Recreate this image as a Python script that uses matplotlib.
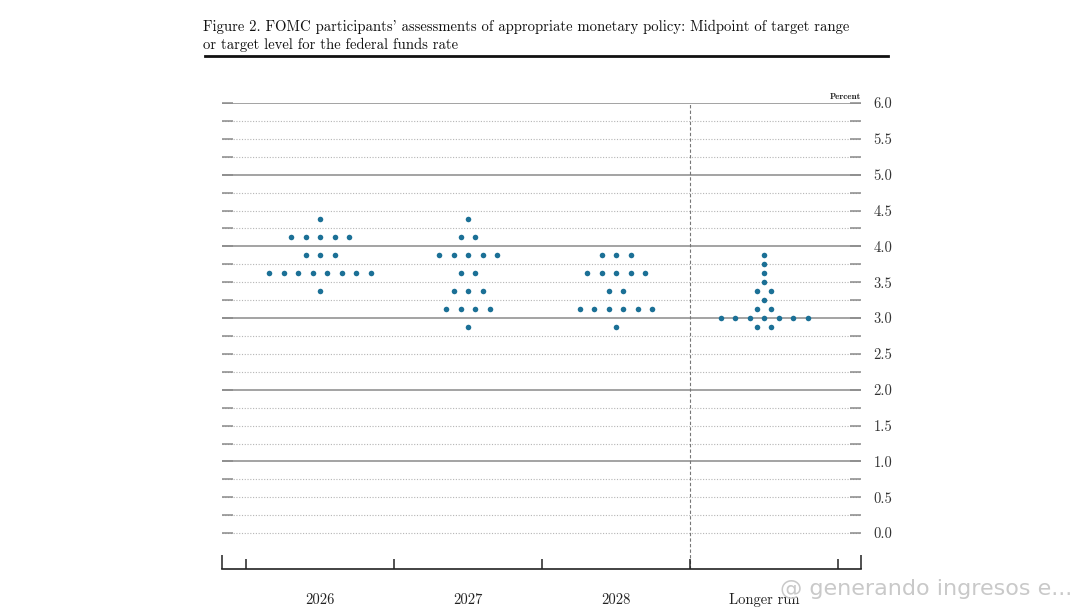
import numpy as np
import matplotlib
matplotlib.use('Agg')
import matplotlib.pyplot as plt
import matplotlib.transforms as mtransforms

plt.rcParams['axes.formatter.use_mathtext'] = True

# Midpoint levels and the number of participants at each level
rates = [4.375, 4.125, 3.875, 3.75, 3.625, 3.5, 3.375, 3.25, 3.125, 3.0, 2.875]
counts_2026 = [1, 5, 3, 0, 8, 0, 1, 0, 0, 0, 0]
counts_2027 = [1, 2, 5, 0, 2, 0, 3, 0, 4, 0, 1]
counts_2028 = [0, 0, 3, 0, 5, 0, 2, 0, 6, 0, 1]
counts_longer = [0, 0, 1, 1, 1, 1, 2, 1, 2, 7, 2]
periods = ['2026', '2027', '2028', 'Longer run']
y_labels = ['0.0', '0.5', '1.0', '1.5', '2.0', '2.5', '3.0', '3.5', '4.0', '4.5', '5.0', '5.5', '6.0']

all_counts = [counts_2026, counts_2027, counts_2028, counts_longer]

serif = ['cmr10', 'DejaVu Serif']
dot_color = '#1b7096'
dot_step = 0.098

fig = plt.figure(figsize=(10.8, 6.12), dpi=100)
ax = fig.add_axes([0.2056, 0.0703, 0.5917, 0.7614])

# horizontal guide lines
levels = np.arange(0, 6.01, 0.25)
for lv in levels:
    if lv > 0 and lv == int(lv):
        ax.axhline(lv, color='#8a8a8a', lw=1.1, zorder=1)
    else:
        ax.axhline(lv, color='#b5b5b5', lw=0.8, ls=(0, (1, 1.5)), zorder=1)

# dashed separator before the longer run
ax.axvline(3, color='#777777', lw=0.8, ls=(0, (3, 2)), zorder=1)

# dots
for i, counts in enumerate(all_counts):
    for r, n in zip(rates, counts):
        if n == 0:
            continue
        xs = i + 0.5 + (np.arange(n) - (n - 1) / 2) * dot_step
        ax.scatter(xs, [r] * n, s=16, color=dot_color, zorder=3, linewidths=0)

ax.set_xlim(-0.162, 4.155)
ax.set_ylim(-0.5, 6.0)

for side in ['left', 'right', 'top']:
    ax.spines[side].set_visible(False)
ax.spines['bottom'].set_color('#222222')
ax.spines['bottom'].set_linewidth(1.2)

# y ticks on both sides, labels on the right only every 0.5
ax.set_yticks(levels)
ax.set_yticklabels([y_labels[int(lv * 2)] if (lv * 2) == int(lv * 2) else '' for lv in levels])
ax.tick_params(axis='y', which='major', direction='in', length=8, width=1.1,
               color='#8a8a8a', left=True, right=True, labelleft=False,
               labelright=True, pad=9, labelsize=10.5, labelcolor='#333333')
for lab in ax.get_yticklabels():
    lab.set_family(serif)

# x ticks
ax.set_xticks([0, 1, 2, 3, 4])
ax.set_xticklabels([])
ax.set_xticks([ax.get_xlim()[0], ax.get_xlim()[1]], minor=True)
ax.tick_params(axis='x', which='major', direction='in', length=7, width=1.1, color='#222222')
ax.tick_params(axis='x', which='minor', direction='in', length=10, width=1.1, color='#222222')

trans = mtransforms.blended_transform_factory(ax.transData, ax.transAxes)
for i, p in enumerate(periods):
    ax.text(i + 0.5, -0.052, p, transform=trans, ha='center', va='top',
            fontsize=10.5, family=serif, color='#222222')

ax.text(1.0, 1.004, 'Percent', transform=ax.transAxes, ha='right', va='bottom',
        fontsize=6.5, family=['cmb10', 'DejaVu Serif'], color='#222222')

# title
fig.text(0.188, 0.956, "Figure 2. FOMC participants' assessments of appropriate monetary policy: Midpoint of target range",
         ha='left', va='center', fontsize=10.6, family=serif, color='#111111')
fig.text(0.188, 0.927, 'or target level for the federal funds rate',
         ha='left', va='center', fontsize=10.6, family=serif, color='#111111')
fig.add_artist(plt.Line2D([0.19, 0.822], [0.908, 0.908], color='#111111', lw=2.0))

# watermark
fig.text(0.722, 0.037, '@ generando ingresos e...', ha='left', va='center',
         fontsize=16, color='#c9c9c9', family='DejaVu Sans')

fig.savefig('out.png', dpi=100, facecolor='white')
